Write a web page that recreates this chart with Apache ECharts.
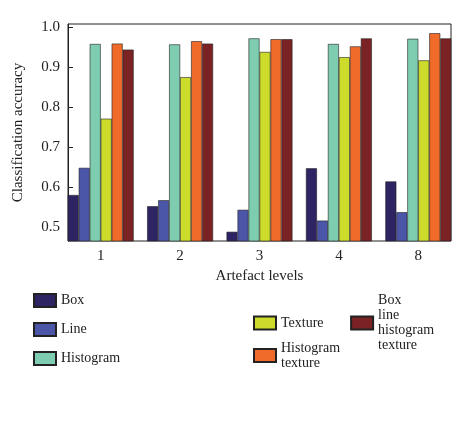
<!DOCTYPE html>
<html><head><meta charset="utf-8">
<script src="https://cdn.jsdelivr.net/npm/echarts@6/dist/echarts.min.js"></script>
<style>html,body{margin:0;background:#fff}#c{width:474px;height:444px}</style>
</head><body><div id="c"></div>
<script>
// === Datos ===
const levels = ['1', '2', '3', '4', '8'];
const names = ['Box', 'Line', 'Histogram', 'Texture', 'Histogram\ntexture', 'Box\nline\nhistogram\ntexture'];
const colors = ['#2e2463', '#4b56a8', '#7ecdb0', '#cddc2a', '#f06a2a', '#7a2224'];
const box = [0.580, 0.552, 0.488, 0.647, 0.614];
const line = [0.648, 0.567, 0.543, 0.516, 0.537];
const histogram = [0.958, 0.957, 0.972, 0.958, 0.971];
const texture = [0.771, 0.875, 0.938, 0.925, 0.917];
const histTexture = [0.959, 0.965, 0.970, 0.952, 0.985];
const allFeatures = [0.944, 0.959, 0.970, 0.972, 0.972];
const yTicks = [0.5, 0.6, 0.7, 0.8, 0.9, 1.0];

const values = [box, line, histogram, texture, histTexture, allFeatures];
const font = 'Liberation Serif';
const txt = { fontFamily: font, color: '#222', fontSize: 14 };
const yMin = 0.465, yMax = 1.008;

const series = names.map((n, i) => ({
  name: n, type: 'bar', data: values[i], barGap: '0%', barCategoryGap: '17%',
  itemStyle: { color: colors[i], borderColor: '#222', borderWidth: 0.6 }
}));

const legendBase = { orient: 'vertical', itemWidth: 22, itemHeight: 13, icon: 'rect',
  textStyle: { ...txt, fontSize: 14, lineHeight: 15 } };

echarts.init(document.getElementById('c')).setOption({
  animation: false,
  textStyle: txt,
  grid: [
    // barras: ancho de categoría para que los grupos toquen los bordes del marco
    { left: 61, right: 16, top: 24, bottom: 203 },
    // marco + eje Y
    { left: 68, right: 23, top: 24, bottom: 203, show: true, borderColor: '#222', borderWidth: 1 }
  ],
  xAxis: [
    { gridIndex: 0, type: 'category', data: levels, name: 'Artefact levels', nameLocation: 'middle', nameGap: 28,
      nameTextStyle: { ...txt, fontSize: 15 },
      axisLine: { show: false }, axisTick: { inside: true, alignWithLabel: true, length: 5, lineStyle: { color: '#222' } },
      axisLabel: { ...txt, fontSize: 15 } },
    { gridIndex: 1, type: 'value', show: false }
  ],
  yAxis: [
    { gridIndex: 0, type: 'value', min: yMin, max: yMax, show: false },
    { gridIndex: 1, type: 'value', min: yMin, max: yMax, name: 'Classification accuracy', nameLocation: 'middle', nameGap: 42,
      nameTextStyle: { ...txt, fontSize: 15 },
      axisLine: { show: true, lineStyle: { color: '#222' } },
      splitLine: { show: false },
      axisLabel: { ...txt, fontSize: 15, customValues: yTicks, formatter: v => v.toFixed(1) },
      axisTick: { show: true, inside: true, length: 5, customValues: yTicks, lineStyle: { color: '#222' } } }
  ],
  legend: [
    { ...legendBase, left: 28, top: 288, data: names.slice(0, 3), itemGap: 14 },
    { ...legendBase, left: 248, top: 288, data: names.slice(3), itemGap: 10 }
  ],
  series
});
</script></body></html>
